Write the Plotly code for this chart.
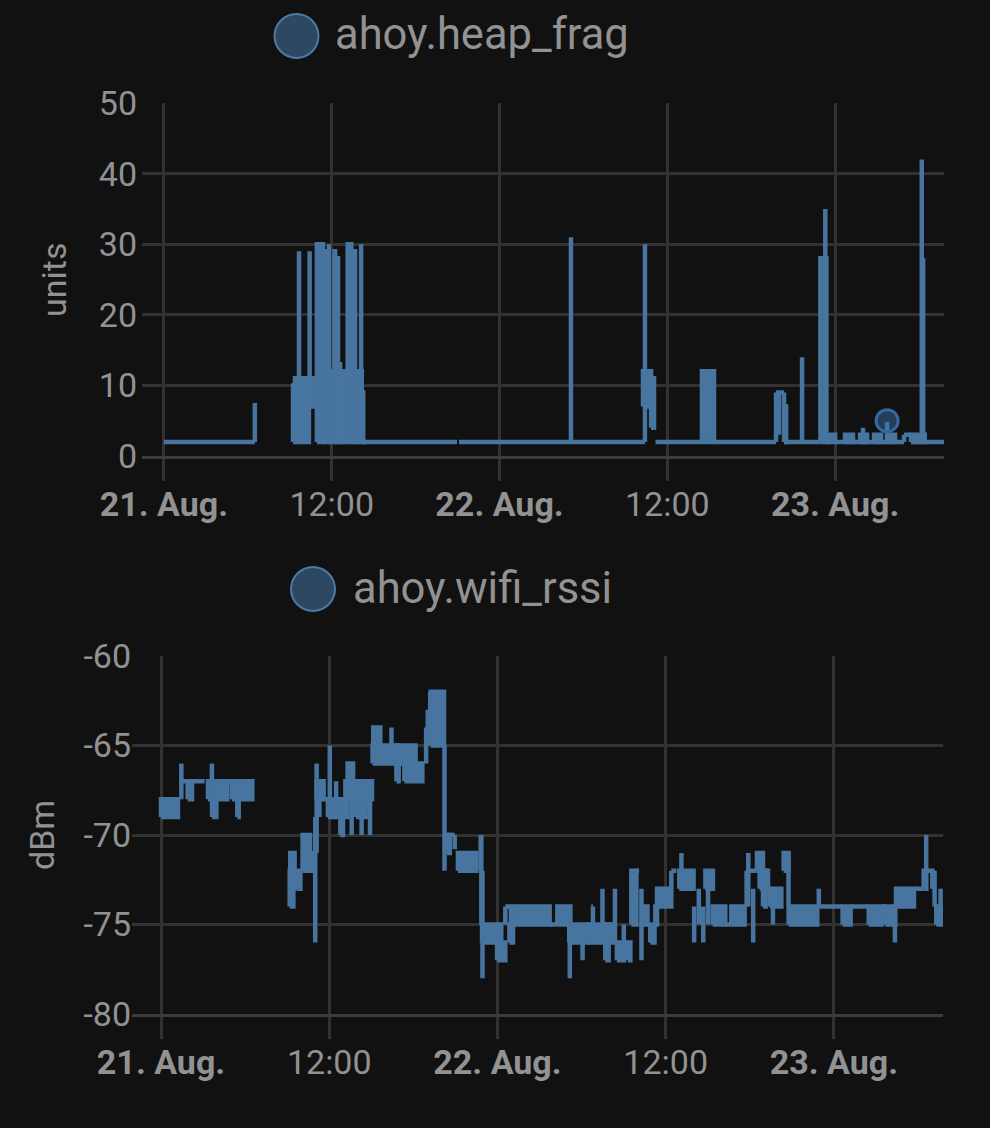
import pandas as pd
import plotly.graph_objects as go

# size of the page the chart sits in
W = 990
H = 1128

BLUE = "#47759f"
GRID = "#323232"
TEXT = "#929292"

start_day = pd.Timestamp("2023-08-21")

tick_hours = [0, 12, 24, 36, 48]
tick_labels = ["<b>21. Aug.</b>", "12:00", "<b>22. Aug.</b>", "12:00", "<b>23. Aug.</b>"]

heap_ticks = [0, 10, 20, 30, 40, 50]
heap_tick_labels = ["0", "10", "20", "30", "40", "50"]
rssi_ticks = [-80, -75, -70, -65, -60]
rssi_tick_labels = ["-80", "-75", "-70", "-65", "-60"]

# each row: start hour, end hour, lowest value, highest value inside that stretch
# (the source line flips so fast that it reads as solid blocks)
heap_day1 = [
    (0, 6.5, 2, 2), (6.5, 6.5, 2, 7.5),
    (9.23, 9.37, 2, 10), (9.37, 10.37, 2, 11), (9.66, 9.66, 2, 29), (10.42, 10.42, 7, 29),
    (10.45, 10.9, 7, 11), (10.94, 11.37, 2, 30), (11.37, 11.78, 2, 29), (11.8, 11.8, 2, 30),
    (11.8, 12.2, 2, 12), (12.2, 12.24, 2, 29), (12.24, 12.45, 2, 28), (12.45, 12.6, 2, 13),
    (12.6, 13.14, 2, 12), (13.14, 13.4, 2, 30), (13.4, 13.67, 2, 29), (13.67, 14.08, 2, 12),
    (14.1, 14.1, 2, 30), (14.1, 14.15, 2, 12), (14.15, 14.25, 2, 9),
    (14.25, 20.96, 2, 2),
]
heap_day2 = [
    (21.1, 29.11, 2, 2), (29.11, 29.11, 2, 31), (29.11, 34.4, 2, 2), (34.4, 34.4, 2, 30),
    (34.26, 34.84, 7, 12), (34.84, 35.05, 4, 11), (35.16, 38.48, 2, 2), (38.48, 39.34, 2, 12),
    (39.34, 43.78, 2, 2), (43.78, 43.78, 2, 9), (43.78, 44.35, 9, 9), (43.99, 43.99, 3, 9),
    (44.35, 44.35, 7, 9), (44.35, 44.5, 2, 7), (44.35, 46.95, 2, 2), (45.64, 45.64, 2, 14),
    (46.95, 47.3, 2, 28), (47.3, 47.3, 2, 35),
]
heap_day3 = [
    (47.3, 47.38, 2, 28), (47.38, 48.0, 2, 3), (48.0, 52.93, 2, 2), (48.71, 49.28, 2, 3),
    (49.79, 50.29, 2, 3), (50.0, 50.0, 2, 4), (50.79, 51.29, 2, 3), (51.72, 52.29, 2, 3),
    (51.72, 51.72, 2, 4.8), (52.93, 52.93, 2, 3), (52.93, 53.43, 3, 3), (53.43, 54.41, 2, 3),
    (54.2, 54.2, 2, 42), (54.3, 54.3, 2, 28), (53.43, 55.79, 2, 2),
]
rssi_morning = [
    (0, 1.21, -69, -68), (1.45, 1.45, -68, -66), (1.38, 3.11, -67, -67), (1.9, 2.21, -68, -67),
    (3.35, 4.73, -68, -67), (3.63, 3.63, -68, -66), (3.64, 3.95, -69, -68), (4.73, 5.06, -67, -67),
    (5.06, 6.51, -68, -67), (5.44, 5.54, -69, -68),
]
rssi_noon = [
    (9.18, 9.44, -74, -72), (9.22, 9.53, -73, -71), (9.72, 9.94, -73, -72), (10.1, 10.63, -72, -70),
    (10.63, 10.8, -72, -71), (11.0, 11.0, -76, -69), (11.1, 11.1, -71, -66), (11.3, 11.3, -69, -67),
    (11.1, 11.6, -68, -67), (11.9, 12.5, -69, -68), (12.04, 12.04, -68, -65), (12.49, 12.49, -68, -67),
    (12.79, 12.98, -70, -68), (12.98, 13.3, -69, -68), (13.31, 13.7, -67, -66), (13.15, 15.05, -68, -67),
    (13.6, 13.6, -70, -68), (14.31, 14.31, -70, -68), (13.9, 14.6, -69, -68), (14.91, 14.91, -70, -68),
]
rssi_afternoon = [
    (15.09, 18.16, -66, -65), (15.14, 15.64, -65, -64), (16.44, 16.44, -65, -64), (16.79, 16.95, -67, -65),
    (17.36, 18.64, -67, -66), (18.91, 18.91, -66, -64), (19.03, 19.03, -65, -63), (19.2, 19.2, -64, -62),
    (19.24, 20.19, -65, -62), (20.22, 20.22, -72, -65), (20.22, 20.95, -70, -70), (20.4, 20.6, -71, -70),
    (20.95, 20.95, -70.8, -70), (21.18, 22.49, -72, -71), (22.8, 22.8, -72, -70), (22.93, 22.93, -78, -72),
    (22.85, 22.85, -75, -70),
]
rssi_night = [
    (22.9, 24.27, -76, -75), (23.97, 24.56, -77, -76), (24.56, 24.56, -75, -74), (24.85, 25.11, -76, -75),
    (24.96, 24.96, -75, -74), (24.56, 25.2, -74, -74), (25.23, 27.72, -75, -74), (27.72, 28.27, -75, -75),
    (28.27, 29.2, -75, -74), (29.16, 29.16, -78, -75), (29.12, 30.46, -76, -75), (30.07, 30.07, -77, -76),
    (30.69, 30.81, -74, -74), (30.81, 30.81, -75, -74), (30.46, 31.69, -76, -75), (31.49, 31.49, -75, -73),
    (31.69, 31.93, -77, -75), (32.05, 32.24, -76, -75), (32.38, 32.38, -76, -73), (32.52, 33.03, -77, -76),
    (33.01, 33.01, -76, -75), (33.31, 33.48, -77, -76), (33.55, 33.91, -75, -72), (33.91, 34.1, -72, -72),
    (34.27, 34.27, -77, -73), (34.31, 34.7, -75, -74), (34.9, 35.2, -76, -75), (35.26, 35.38, -75, -74),
]
rssi_day3 = [
    (35.38, 36.4, -74, -73), (36.4, 36.76, -72, -72), (36.4, 36.4, -73, -72), (37.12, 37.12, -72, -71),
    (36.97, 37.99, -73, -72), (38.03, 38.03, -76, -74), (38.36, 38.36, -75, -73), (38.68, 38.68, -76, -74),
    (38.83, 39.37, -73, -72), (39.02, 39.02, -75, -73), (39.35, 40.25, -75, -74), (40.25, 40.68, -75, -75),
    (40.68, 41.63, -75, -74), (41.77, 41.77, -74, -72), (41.89, 41.89, -74, -71), (42.24, 42.24, -76, -73),
    (42.51, 42.94, -72, -71), (42.7, 43.3, -73, -72), (41.77, 42.5, -72, -72), (42.94, 43.13, -74, -72),
    (43.42, 44.25, -74, -73), (43.65, 43.65, -75, -74), (44.41, 44.77, -72, -71), (44.76, 44.76, -74, -72),
    (44.77, 46.81, -75, -74), (46.92, 46.92, -74, -73), (46.92, 48.62, -74, -74), (48.62, 49.19, -75, -74),
    (49.19, 50.48, -74, -74), (50.48, 51.4, -75, -74), (51.4, 51.67, -74, -74), (51.67, 52.38, -75, -74),
    (52.35, 52.35, -76, -75), (52.43, 53.71, -74, -73), (53.71, 54.4, -73, -73), (54.4, 54.59, -73, -72),
    (54.58, 54.58, -72, -70), (54.58, 55.18, -72, -72), (55.02, 55.02, -73, -72), (55.18, 55.18, -74, -72),
    (55.3, 55.72, -75, -74), (55.61, 55.61, -74, -73),
]

# hovered point on the first chart
marker_hour = 51.72
marker_value = 5

heap_segments = heap_day1 + heap_day2 + heap_day3
rssi_segments = rssi_morning + rssi_noon + rssi_afternoon + rssi_night + rssi_day3


def to_date(hour):
    return start_day + pd.Timedelta(hours=hour)


def block_trace(segments, xaxis, yaxis):
    xs = []
    ys = []
    for h0, h1, lo, hi in segments:
        d0 = to_date(h0)
        d1 = to_date(h1)
        xs += [d0, d1, d1, d0, d0, None]
        ys += [lo, lo, hi, hi, lo, None]
    return go.Scatter(
        x=xs, y=ys, xaxis=xaxis, yaxis=yaxis, mode="lines", fill="toself",
        fillcolor=BLUE, line=dict(color=BLUE, width=4.5, simplify=False),
        connectgaps=False, hoverinfo="skip", showlegend=False,
    )


fig = go.Figure()
fig.add_trace(block_trace(heap_segments, "x", "y"))
fig.add_trace(block_trace(rssi_segments, "x2", "y2"))
fig.add_trace(go.Scatter(
    x=[to_date(marker_hour)], y=[marker_value], xaxis="x", yaxis="y", mode="markers",
    marker=dict(size=22, color="rgba(60,115,175,0.45)", line=dict(color="#34699f", width=3)),
    hoverinfo="skip", showlegend=False,
))

tick_dates = [to_date(h) for h in tick_hours]


def x_axis(x_from, x_to, h_from, h_to, anchor):
    return dict(
        domain=[x_from / W, x_to / W], anchor=anchor, automargin=False,
        range=[to_date(h_from), to_date(h_to)], type="date",
        tickmode="array", tickvals=tick_dates, ticktext=tick_labels,
        tickfont=dict(family="Roboto", size=34, color=TEXT), tickangle=0,
        ticks="outside", ticklen=22, tickwidth=2.5, tickcolor=GRID, ticklabelstandoff=-6,
        showgrid=True, gridcolor=GRID, gridwidth=2.5,
        showline=True, linecolor="#3c3c3c", linewidth=2.5, zeroline=False,
    )


def y_axis(y_top, y_bottom, lo, hi, vals, labels, anchor, standoff):
    return dict(
        domain=[1 - y_bottom / H, 1 - y_top / H], anchor=anchor, automargin=False,
        range=[lo, hi], tickmode="array", tickvals=vals, ticktext=labels,
        tickfont=dict(family="Roboto", size=34, color=TEXT), ticklabelstandoff=standoff,
        showgrid=True, gridcolor=GRID, gridwidth=2.5, zeroline=False, showline=False,
    )


def paper_text(text, x, y, size, angle=0, anchor="left"):
    return dict(
        text=text, x=x / W, y=1 - y / H, xref="paper", yref="paper", showarrow=False,
        xanchor=anchor, yanchor="middle", textangle=angle,
        font=dict(family="Roboto", size=size, color=TEXT),
    )


def legend_dot(cx, cy, r):
    return dict(
        type="circle", xref="paper", yref="paper",
        x0=(cx - r) / W, x1=(cx + r) / W, y0=1 - (cy + r) / H, y1=1 - (cy - r) / H,
        fillcolor="#2e4862", line=dict(color="#4a7aa6", width=2),
    )


fig.update_layout(
    template="none",
    width=W, height=H, margin=dict(l=0, r=0, t=0, b=0),
    paper_bgcolor="#111111", plot_bgcolor="#111111", showlegend=False,
    xaxis=x_axis(142, 944, -1.57, 55.79, "y"),
    yaxis=y_axis(103, 456, 0, 50, heap_ticks, heap_tick_labels, "x", 4),
    xaxis2=x_axis(132, 943, -2.07, 55.78, "y2"),
    yaxis2=y_axis(656, 1014, -80, -60, rssi_ticks, rssi_tick_labels, "x2", 0),
    annotations=[
        paper_text("ahoy.heap_frag", 333, 34, 43.5),
        paper_text("ahoy.wifi_rssi", 351, 588, 43.5),
        paper_text("units", 54, 280, 34, angle=-90, anchor="center"),
        paper_text("dBm", 42, 835, 34, angle=-90, anchor="center"),
    ],
    shapes=[legend_dot(296.5, 36, 22), legend_dot(313, 589, 22)],
)

# no white page border around the chart
fig.write_html(
    "out.html",
    config={"displayModeBar": False},
    post_script="document.body.style.margin='0';document.body.style.background='#111111';",
)
